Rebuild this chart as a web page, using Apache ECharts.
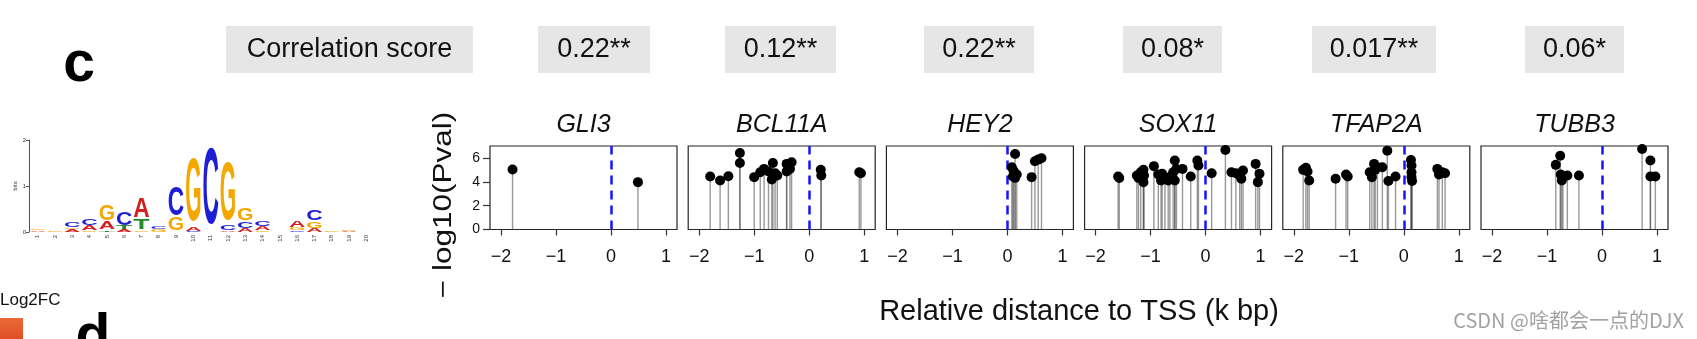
<!DOCTYPE html>
<html><head><meta charset="utf-8">
<script src="https://cdn.jsdelivr.net/npm/echarts@6/dist/echarts.min.js"></script>
<style>html,body{margin:0;padding:0;background:#fff}#c{width:1697px;height:339px}</style>
</head><body><div id="c"></div>
<script>
// ---------------- data ----------------
const genes = ['GLI3', 'BCL11A', 'HEY2', 'SOX11', 'TFAP2A', 'TUBB3'];
const scoreHeader = 'Correlation score';
const scores = ['0.22**', '0.12**', '0.22**', '0.08*', '0.017**', '0.06*'];
const xTicks = [-2, -1, 0, 1];
const yTicks = [0, 2, 4, 6];
const xTitle = 'Relative distance to TSS (k bp)';
const yTitle = '\u2212 log10(Pval)';

// [relative distance (kbp), -log10(Pval)]
const gli3 = [[-1.79, 5.03], [0.49, 3.97]];
const bcl11a = [[-1.80, 4.44], [-1.62, 4.11], [-1.47, 4.47], [-1.26, 6.42], [-1.26, 5.58], [-1.00, 4.39],
  [-0.89, 4.80], [-0.82, 5.08], [-0.74, 4.86], [-0.66, 5.58], [-0.68, 4.19], [-0.62, 4.72], [-0.58, 4.53],
  [-0.41, 4.86], [-0.41, 5.50], [-0.32, 5.64], [-0.35, 5.08], [0.21, 5.00], [0.22, 4.53], [0.91, 4.80], [0.94, 4.72]];
const hey2 = [[0.14, 6.33], [0.08, 5.22], [0.11, 4.94], [0.10, 4.44], [0.17, 4.61], [0.14, 4.33],
  [0.44, 4.39], [0.50, 5.72], [0.56, 5.86], [0.62, 5.97]];
const sox11 = [[-1.59, 4.44], [-1.57, 4.31], [-1.25, 4.53], [-1.22, 4.31], [-1.18, 4.80], [-1.13, 5.00],
  [-1.12, 4.53], [-1.13, 3.97], [-0.94, 5.31], [-0.86, 4.61], [-0.81, 4.11], [-0.79, 4.67], [-0.74, 4.39],
  [-0.68, 4.11], [-0.65, 4.39], [-0.59, 4.80], [-0.56, 4.11], [-0.56, 5.78], [-0.53, 5.08], [-0.42, 5.08],
  [-0.27, 4.44], [-0.15, 5.78], [-0.13, 5.36], [0.11, 4.72], [0.36, 6.67], [0.47, 4.80], [0.55, 4.72],
  [0.62, 4.53], [0.65, 4.25], [0.68, 4.94], [0.91, 5.50], [0.98, 4.67], [0.95, 3.97]];
const tfap2a = [[-1.83, 5.00], [-1.78, 5.17], [-1.75, 4.86], [-1.72, 4.11], [-1.24, 4.25], [-1.05, 4.61],
  [-1.02, 4.44], [-0.62, 4.80], [-0.58, 4.39], [-0.54, 5.50], [-0.52, 5.00], [-0.48, 5.22], [-0.39, 5.22],
  [-0.30, 6.61], [-0.28, 4.06], [-0.15, 4.44], [0.13, 5.83], [0.14, 5.36], [0.14, 4.80], [0.14, 4.39],
  [0.15, 4.06], [0.61, 5.08], [0.64, 4.61], [0.70, 4.80], [0.75, 4.72]];
const tubb3 = [[-0.84, 5.42], [-0.76, 6.19], [-0.75, 4.61], [-0.73, 4.11], [-0.71, 4.44], [-0.63, 4.53],
  [-0.42, 4.53], [0.73, 6.75], [0.88, 5.78], [0.88, 4.44], [0.97, 4.44]];

// sequence logo: stacks per position, bottom -> top, [letter, bits]
const logoPositions = ['1','2','3','4','5','6','7','8','9','10','11','12','13','14','15','16','17','18','19','20'];
const logoStacks = [
  [['A', 0.03], ['G', 0.03]],
  [['G', 0.03]],
  [['A', 0.05], ['G', 0.04], ['C', 0.12]],
  [['G', 0.03], ['A', 0.10], ['C', 0.13]],
  [['T', 0.04], ['A', 0.18], ['G', 0.35]],
  [['A', 0.05], ['T', 0.07], ['C', 0.28]],
  [['G', 0.03], ['T', 0.24], ['A', 0.43]],
  [['G', 0.05], ['C', 0.06]],
  [['G', 0.30], ['C', 0.65]],
  [['C', 0.02], ['A', 0.08], ['G', 1.40]],
  [['C', 1.69]],
  [['A', 0.03], ['C', 0.10], ['G', 1.27]],
  [['A', 0.08], ['C', 0.15], ['G', 0.27]],
  [['G', 0.03], ['A', 0.08], ['C', 0.11]],
  [],
  [['C', 0.04], ['G', 0.05], ['A', 0.15]],
  [['A', 0.08], ['G', 0.15], ['C', 0.22]],
  [['G', 0.03]],
  [['A', 0.02], ['G', 0.03]],
  []
];

// ---------------- layout / style ----------------
const FONT = '"Liberation Sans", Arial, Helvetica, sans-serif';
const L0 = 490, STEP = 198.2, PW = 187, PT = 146, PH = 83.5;
const panelData = [gli3, bcl11a, hey2, sox11, tfap2a, tubb3];
const scoreBoxes = [[226, 473], [538, 650], [725, 836], [924, 1034], [1123, 1222], [1312, 1436], [1525, 1624]];
const fmt = v => (v < 0 ? '\u2212' + Math.abs(v) : String(v));

function stemItem(params, api) {
  const x = api.value(0), y = api.value(1);
  const p0 = api.coord([x, 0]), p1 = api.coord([x, y]);
  return { type: 'line', shape: { x1: p0[0], y1: p0[1], x2: p1[0], y2: p1[1] },
    style: { stroke: 'rgba(70,70,70,0.55)', lineWidth: 1.4 } };
}

const letterColor = { A: '#d31f1f', C: '#1e1ed4', G: '#f4a700', T: '#23892a' };
const letterW = { A: 0.722, C: 0.722, G: 0.778, T: 0.611 };
const logoItems = [];
logoStacks.forEach((stack, idx) => {
  let acc = 0;
  stack.forEach(([letter, h]) => { logoItems.push({ letter, v: [idx, acc, acc + h] }); acc += h; });
});
function logoItem(params, api) {
  const it = logoItems[params.dataIndex];
  const p0 = api.coord([api.value(0), api.value(1)]);
  const p1 = api.coord([api.value(0), api.value(2)]);
  const bw = api.size([1, 0])[0];
  const h = Math.max(p0[1] - p1[1], 0.3);
  return { type: 'text', x: p0[0], y: (p0[1] + p1[1]) / 2,
    scaleX: bw * 0.95 / (letterW[it.letter] * 100), scaleY: h / 72,
    style: { text: it.letter, font: 'bold 100px ' + FONT, fill: letterColor[it.letter], align: 'center', verticalAlign: 'middle' } };
}

const grids = [], xAxes = [], yAxes = [], series = [];
panelData.forEach((d, i) => {
  grids.push({ left: L0 + i * STEP, top: PT, width: PW, height: PH, show: true,
    borderColor: '#262626', borderWidth: 1.2, backgroundColor: 'transparent' });
  xAxes.push({ type: 'value', gridIndex: i, min: -2.2, max: 1.2, position: 'bottom',
    axisLine: { show: false, onZero: false }, splitLine: { show: false },
    axisTick: { show: true, customValues: xTicks, length: 6, lineStyle: { color: '#333', width: 1.2 } },
    axisLabel: { show: true, customValues: xTicks, formatter: fmt, fontSize: 18, margin: 19, color: '#111', fontFamily: FONT } });
  yAxes.push({ type: 'value', gridIndex: i, min: 0, max: 7, position: 'left',
    axisLine: { show: false, onZero: false }, splitLine: { show: false },
    axisTick: { show: i === 0, customValues: yTicks, length: 7, lineStyle: { color: '#333', width: 1.2 } },
    axisLabel: { show: i === 0, customValues: yTicks, fontSize: 14, margin: 10, color: '#111', fontFamily: FONT } });
  series.push({ type: 'custom', xAxisIndex: i, yAxisIndex: i, data: d, renderItem: stemItem, z: 2, silent: true });
  series.push({ type: 'scatter', xAxisIndex: i, yAxisIndex: i, data: d, symbolSize: 10, z: 3, silent: true,
    itemStyle: { color: '#000', opacity: 1 },
    markLine: { silent: true, symbol: ['none', 'none'], label: { show: false }, z: 1,
      lineStyle: { color: '#1414ff', type: [9, 6], width: 2.5, opacity: 1 }, data: [{ xAxis: 0 }] } });
});

// logo grid
grids.push({ left: 29, top: 140, width: 346, height: 92, show: false });
xAxes.push({ type: 'category', gridIndex: 6, data: logoPositions, boundaryGap: true,
  axisLine: { show: false, onZero: false }, axisTick: { show: false },
  axisLabel: { rotate: 90, fontSize: 6, margin: 3, interval: 0, color: '#333', fontFamily: FONT } });
yAxes.push({ type: 'value', gridIndex: 6, min: 0, max: 2, interval: 1, splitLine: { show: false },
  axisLine: { show: true, onZero: false, lineStyle: { color: '#555', width: 1 } },
  axisTick: { show: true, length: 3, lineStyle: { color: '#555' } },
  axisLabel: { fontSize: 6, margin: 3, color: '#333', fontFamily: FONT },
  name: 'bits', nameLocation: 'middle', nameGap: 11, nameRotate: 90, nameTextStyle: { fontSize: 6, color: '#333' } });
series.push({ type: 'custom', xAxisIndex: 6, yAxisIndex: 6, data: logoItems.map(o => o.v),
  encode: { x: 0, y: [1, 2] }, renderItem: logoItem, silent: true });

// annotations
const graphic = [];
const boxTexts = [scoreHeader].concat(scores);
scoreBoxes.forEach(([a, b], i) => {
  graphic.push({ type: 'rect', left: a, top: 26, shape: { width: b - a, height: 47 }, style: { fill: '#e6e6e6' }, silent: true });
  graphic.push({ type: 'text', x: (a + b) / 2, y: 50, silent: true,
    style: { text: boxTexts[i], font: '27px ' + FONT, fill: '#111', align: 'center', verticalAlign: 'middle' } });
});
genes.forEach((g, i) => {
  graphic.push({ type: 'text', x: L0 + i * STEP + PW / 2, y: 125, silent: true,
    style: { text: g, font: 'italic 25px ' + FONT, fill: '#111', align: 'center', verticalAlign: 'middle' } });
});
graphic.push({ type: 'text', x: 444, y: 205, rotation: Math.PI / 2, scaleX: 1.26, silent: true,
  style: { text: yTitle, font: '25px ' + FONT, fill: '#111', align: 'center', verticalAlign: 'middle' } });
graphic.push({ type: 'text', x: (L0 + L0 + 5 * STEP + PW) / 2, y: 312, silent: true,
  style: { text: xTitle, font: '29px ' + FONT, fill: '#111', align: 'center', verticalAlign: 'middle' } });
graphic.push({ type: 'text', x: 79, y: 65, silent: true,
  style: { text: 'c', font: 'bold 57px ' + FONT, fill: '#000', align: 'center', verticalAlign: 'middle' } });
graphic.push({ type: 'text', x: 93, y: 338, silent: true,
  style: { text: 'd', font: 'bold 57px ' + FONT, fill: '#000', align: 'center', verticalAlign: 'middle' } });
graphic.push({ type: 'text', x: 38, y: 346, silent: true,
  style: { text: '1', font: '12px ' + FONT, fill: '#222', align: 'center', verticalAlign: 'middle' } });
graphic.push({ type: 'text', x: 0, y: 300, silent: true,
  style: { text: 'Log2FC', font: '17px ' + FONT, fill: '#111', align: 'left', verticalAlign: 'middle' } });
graphic.push({ type: 'rect', left: 0, top: 318, shape: { width: 23, height: 25 }, silent: true,
  style: { fill: new echarts.graphic.LinearGradient(0, 0, 0, 1, [{ offset: 0, color: '#ea6a34' }, { offset: 1, color: '#df4a24' }]) } });
graphic.push({ type: 'text', x: 1684, y: 320, silent: true,
  style: { text: 'CSDN @啥都会一点的DJX', font: '20px "Noto Sans CJK SC", ' + FONT, fill: '#a2a2a2', align: 'right', verticalAlign: 'middle' } });

const chart = echarts.init(document.getElementById('c'), null, { renderer: 'canvas' });
chart.setOption({
  animation: false,
  backgroundColor: '#fff',
  grid: grids, xAxis: xAxes, yAxis: yAxes, series: series, graphic: graphic
});
</script>
</body></html>
